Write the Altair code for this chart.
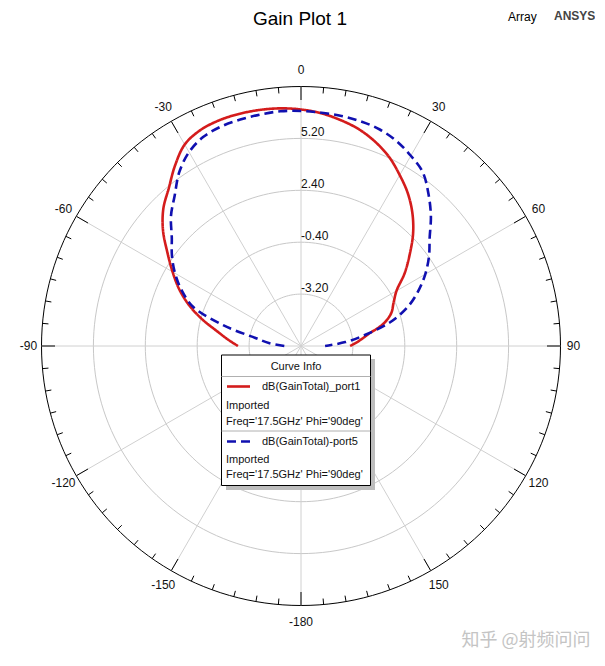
import altair as alt
import pandas as pd
import numpy as np

# ---------------- data ----------------
angles = list(range(-90, 95, 5))
gain_port1 = [-2.6, -2.05, -1.4, -0.5, 0.42, 1.25, 2.0, 2.8, 3.72, 4.5,
              5.1, 5.86, 6.55, 6.85, 6.95, 6.96, 6.93, 6.87, 6.76, 6.6,
              6.37, 6.1, 5.72, 5.25, 4.65, 4.05, 3.35, 2.55, 1.65, 0.82,
              -0.05, -0.49, -0.82, -1.41, -2.31, -2.86, -3.35]
gain_port5 = [-5.1, -4.3, -3.5, -1.65, 0.2, 1.1, 1.85, 2.5, 3.1, 3.92,
              4.6, 5.45, 6.08, 6.45, 6.6, 6.65, 6.68, 6.71, 6.68, 6.63,
              6.6, 6.54, 6.43, 6.2, 5.85, 5.45, 4.7, 3.91, 3.06, 2.43,
              1.74, 0.97, 0.11, -1.0, -2.44, -3.6, -4.7]
series_names = ["dB(GainTotal)_port1", "dB(GainTotal)-port5"]

ring_values = [-3.2, -0.4, 2.4, 5.2]
ring_labels = ["-3.20", "-0.40", "2.40", "5.20"]
r_min, r_max = -6.0, 8.0
spoke_angles = [-150, -120, -90, -60, -30, 0, 30, 60, 90, 120, 150, 180]
angle_labels = ["-150", "-120", "-90", "-60", "-30", "0", "30", "60", "90", "120", "150", "-180"]
tick_angles = list(range(-175, 185, 5))

# ---------------- geometry of the plot area ----------------
W, H = 587, 648
CX, CY = 293, 338          # centre of the polar plot in plot pixels
RPX = 259.5                # outer radius in pixels
span = r_max - r_min
s = RPX / span             # px per unit
xdom = [-CX / s, (W - CX) / s]
ydom = [-(H - CY) / s, CY / s]
xs = alt.Scale(domain=xdom, range=[0, W], nice=False, zero=False)
ys = alt.Scale(domain=ydom, range=[H, 0], nice=False, zero=False)

def X(field):
    return alt.X(field, type="quantitative", scale=xs, axis=None)

def Y(field):
    return alt.Y(field, type="quantitative", scale=ys, axis=None)

# ---------------- tables built from the arrays ----------------
curve_df = pd.concat([
    pd.DataFrame({"series": series_names[0], "angle": angles, "gain": gain_port1, "i": range(len(angles))}),
    pd.DataFrame({"series": series_names[1], "angle": angles, "gain": gain_port5, "i": range(len(angles))}),
])
curve_df["u"] = curve_df["gain"] - r_min
curve_df["x"] = curve_df["u"] * np.sin(np.radians(curve_df["angle"]))
curve_df["y"] = curve_df["u"] * np.cos(np.radians(curve_df["angle"]))

circ_ang = np.arange(0, 361, 2)
ring_rows = []
for rv in ring_values + [r_max]:
    u = rv - r_min
    for a in circ_ang:
        ring_rows.append({"ring": rv, "a": a, "x": u * np.sin(np.radians(a)),
                          "y": u * np.cos(np.radians(a)), "outer": rv == r_max})
ring_df = pd.DataFrame(ring_rows)

spoke_df = pd.DataFrame({"angle": spoke_angles})
spoke_df["x"] = 0.0
spoke_df["y"] = 0.0
spoke_df["x2"] = span * np.sin(np.radians(spoke_df["angle"]))
spoke_df["y2"] = span * np.cos(np.radians(spoke_df["angle"]))

tick_df = pd.DataFrame({"angle": tick_angles})
tick_df["major"] = tick_df["angle"] % 30 == 0
tick_len = np.where(tick_df["major"], 13.5 / s, 6.0 / s)
tick_df["x"] = span * np.sin(np.radians(tick_df["angle"]))
tick_df["y"] = span * np.cos(np.radians(tick_df["angle"]))
tick_df["x2"] = (span - tick_len) * np.sin(np.radians(tick_df["angle"]))
tick_df["y2"] = (span - tick_len) * np.cos(np.radians(tick_df["angle"]))

lab_df = pd.DataFrame({"angle": spoke_angles, "label": angle_labels})
rad = np.radians(lab_df["angle"])
lab_r = span + (13.0 + 3.5 * np.abs(np.cos(rad))) / s
lab_df["x"] = lab_r * np.sin(rad)
lab_df["y"] = lab_r * np.cos(rad)

rlab_df = pd.DataFrame({"label": ring_labels, "rv": ring_values})
rlab_df["x"] = 0.0
rlab_df["y"] = rlab_df["rv"] - r_min

FONT = "Liberation Sans"

# ---------------- layers ----------------
rings = alt.Chart(ring_df).mark_line(strokeWidth=1).encode(
    x=X("x"), y=Y("y"), detail="ring:N", order="a:Q",
    color=alt.condition("datum.outer", alt.value("#000000"), alt.value("#c8c8c8")),
)
spokes = alt.Chart(spoke_df).mark_rule(color="#d0d0d0", strokeWidth=1).encode(
    x=X("x"), y=Y("y"), x2="x2", y2="y2")
ticks = alt.Chart(tick_df).mark_rule(color="#000000", strokeWidth=1).encode(
    x=X("x"), y=Y("y"), x2="x2", y2="y2")
alabels = alt.Chart(lab_df).mark_text(font=FONT, fontSize=12, color="#111111",
                                      align="center", baseline="middle").encode(
    x=X("x"), y=Y("y"), text="label:N")
rlabels = alt.Chart(rlab_df).mark_text(font=FONT, fontSize=12, color="#111111",
                                       align="left", baseline="middle", dx=0, dy=-6).encode(
    x=X("x"), y=Y("y"), text="label:N")

curves = alt.Chart(curve_df).mark_line(strokeWidth=2.6, interpolate="catmull-rom").encode(
    x=X("x"), y=Y("y"), order="i:Q", detail="series:N",
    color=alt.Color("series:N", scale=alt.Scale(domain=series_names, range=["#d41c1c", "#1010b0"]), legend=None),
    strokeDash=alt.StrokeDash("series:N", scale=alt.Scale(domain=series_names, range=[[1, 0], [9, 5]]), legend=None),
)

one = pd.DataFrame({"k": [0]})

def P(v):  # page pixel -> plot pixel
    return v - 8

def txt(text, x, y, size=11, align="left", color="#111111", weight="normal", font=FONT):
    return alt.Chart(one).mark_text(font=font, fontSize=size, align=align, baseline="middle",
                                    color=color, fontWeight=weight).encode(
        x=alt.value(P(x)), y=alt.value(P(y)), text=alt.value(text))

def rect(x1, y1, x2, y2, fill, stroke=None):
    kw = {"fill": fill}
    if stroke:
        kw.update(stroke=stroke, strokeWidth=1)
    return alt.Chart(one).mark_rect(**kw).encode(
        x=alt.value(P(x1)), x2=alt.value(P(x2)), y=alt.value(P(y1)), y2=alt.value(P(y2)))

def hline(x1, x2, y, color, width=1, dash=None):
    kw = {"color": color, "strokeWidth": width}
    if dash:
        kw["strokeDash"] = dash
    return alt.Chart(one).mark_rule(**kw).encode(
        x=alt.value(P(x1)), x2=alt.value(P(x2)), y=alt.value(P(y)))

legend_layers = [
    rect(226, 359, 375, 490, "#bdbdbd"),
    rect(221.5, 355, 370.5, 485.5, "#ffffff", "#000000"),
    txt("Curve Info", 296, 367, align="center"),
    hline(221.5, 370.5, 376.5, "#b0b0b0"),
    hline(227, 250, 386.5, "#d41c1c", 2.6),
    txt(series_names[0], 262, 387),
    txt("Imported", 226, 406),
    txt("Freq='17.5GHz' Phi='90deg'", 226, 422),
    hline(221.5, 370.5, 431, "#b0b0b0"),
    hline(227, 250, 441.5, "#1010b0", 2.6, [9, 5]),
    txt(series_names[1], 262, 442),
    txt("Imported", 226, 460),
    txt("Freq='17.5GHz' Phi='90deg'", 226, 474.5),
]

header = [
    txt("Gain Plot 1", 300, 19, size=19, align="center", color="#000000"),
    txt("Array", 508, 17, size=12, color="#000000"),
    txt("ANSYS", 554, 15.5, size=12, color="#444444", weight="bold"),
    txt("知乎 @射频问问", 526, 641, size=18, align="center", color="#c4c4c4",
        font="Noto Sans CJK SC"),
]

chart = alt.layer(
    rings, spokes, ticks, alabels, rlabels, curves, *legend_layers, *header
).properties(
    width=W, height=H, padding=0, autosize=alt.AutoSizeParams(type="none"),
    background="#ffffff",
).configure_view(stroke=None)

chart.save("out.html", embed_options={"renderer": "svg", "actions": False})
